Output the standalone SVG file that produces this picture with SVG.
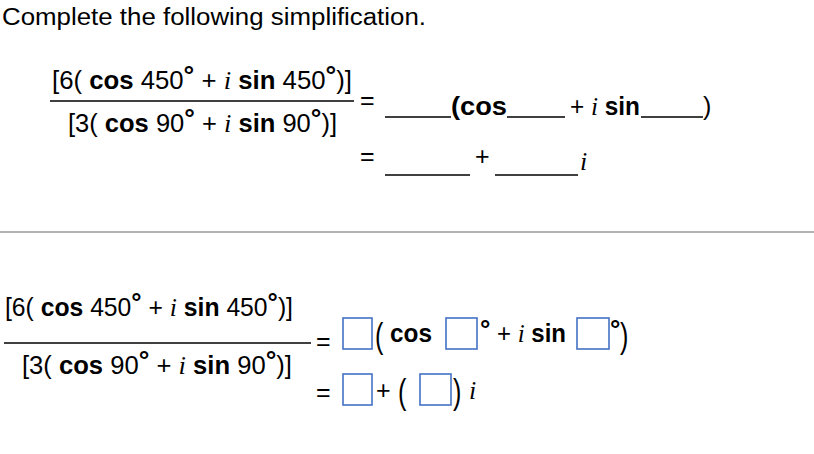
<svg xmlns="http://www.w3.org/2000/svg" width="814" height="454" viewBox="0 0 814 454">
<style>
text{font-family:"Liberation Sans",Arial,sans-serif;font-size:25px;fill:#000}
.b{font-weight:bold}
.i{font-family:"Liberation Serif","Times New Roman",serif;font-style:italic;font-size:26px}
.d{font-size:26px;font-weight:bold}
.u{stroke:#000;stroke-width:1.3}
.box{fill:#fff;stroke:#4472c4;stroke-width:1.6}
.p{font-size:36px;font-weight:normal}
.t{font-size:23px}
</style>
<rect width="814" height="454" fill="#fff"/>
<text x="2" y="25" class="t" textLength="424" lengthAdjust="spacingAndGlyphs">Complete the following simplification.</text>
<g id="top">
<text x="52" y="89" textLength="300" lengthAdjust="spacingAndGlyphs">[6( <tspan class="b">cos</tspan> 450<tspan dy="-5" class="d">°</tspan><tspan dy="5"> + </tspan><tspan class="i">i</tspan> <tspan class="b">sin</tspan> 450<tspan dy="-5" class="d">°</tspan><tspan dy="5">)]</tspan></text>
<line x1="50" y1="101" x2="354" y2="101" class="u" stroke-width="1.8"/>
<text x="68" y="132" textLength="269" lengthAdjust="spacingAndGlyphs">[3( <tspan class="b">cos</tspan> 90<tspan dy="-5" class="d">°</tspan><tspan dy="5"> + </tspan><tspan class="i">i</tspan> <tspan class="b">sin</tspan> 90<tspan dy="-5" class="d">°</tspan><tspan dy="5">)]</tspan></text>
<text x="360" y="109">=</text>
<line x1="385" y1="117" x2="451" y2="117" class="u"/>
<text x="451" y="115" class="b" textLength="56" lengthAdjust="spacingAndGlyphs">(cos</text>
<line x1="507" y1="117" x2="565" y2="117" class="u"/>
<text x="570" y="115" textLength="70" lengthAdjust="spacingAndGlyphs">+ <tspan class="i">i</tspan> <tspan class="b">sin</tspan></text>
<line x1="641" y1="117" x2="703" y2="117" class="u"/>
<text x="703" y="115">)</text>
<text x="360" y="165">=</text>
<line x1="385" y1="175" x2="470" y2="175" class="u"/>
<text x="475" y="165">+</text>
<line x1="495" y1="175" x2="578" y2="175" class="u"/>
<text x="580" y="170" class="i">i</text>
</g>
<line x1="0" y1="232" x2="814" y2="232" stroke="#999" stroke-width="1.3"/>
<g id="bottom">
<text x="5" y="316" textLength="288" lengthAdjust="spacingAndGlyphs">[6( <tspan class="b">cos</tspan> 450<tspan dy="-5" class="d">°</tspan><tspan dy="5"> + </tspan><tspan class="i">i</tspan> <tspan class="b">sin</tspan> 450<tspan dy="-5" class="d">°</tspan><tspan dy="5">)]</tspan></text>
<line x1="4" y1="343" x2="311" y2="343" class="u" stroke-width="1.8"/>
<text x="22" y="374" textLength="270" lengthAdjust="spacingAndGlyphs">[3( <tspan class="b">cos</tspan> 90<tspan dy="-5" class="d">°</tspan><tspan dy="5"> + </tspan><tspan class="i">i</tspan> <tspan class="b">sin</tspan> 90<tspan dy="-5" class="d">°</tspan><tspan dy="5">)]</tspan></text>
<text x="316" y="350">=</text>
<rect x="343" y="318" width="29" height="31" class="box"/>
<text x="375" y="348" class="p" transform="translate(375 348) scale(0.7 1) translate(-375 -348)">(</text>
<text x="390" y="342" class="b" textLength="42" lengthAdjust="spacingAndGlyphs">cos</text>
<rect x="446" y="318" width="31" height="31" class="box"/>
<text x="480" y="338" class="d">°</text>
<text x="497" y="342" textLength="69" lengthAdjust="spacingAndGlyphs">+ <tspan class="i">i</tspan> <tspan class="b">sin</tspan></text>
<rect x="577" y="318" width="32" height="31" class="box"/>
<text x="610" y="338" class="d">°</text>
<text x="620" y="348" class="p" transform="translate(620 348) scale(0.7 1) translate(-620 -348)">)</text>
<text x="316" y="401">=</text>
<rect x="343" y="374" width="29" height="31" class="box"/>
<text x="376" y="399">+</text>
<text x="398" y="404" class="p" transform="translate(398 404) scale(0.7 1) translate(-398 -404)">(</text>
<rect x="420" y="374" width="31" height="31" class="box"/>
<text x="453" y="404" class="p" transform="translate(453 404) scale(0.7 1) translate(-453 -404)">)</text>
<text x="469" y="399" class="i">i</text>
</g>
</svg>
